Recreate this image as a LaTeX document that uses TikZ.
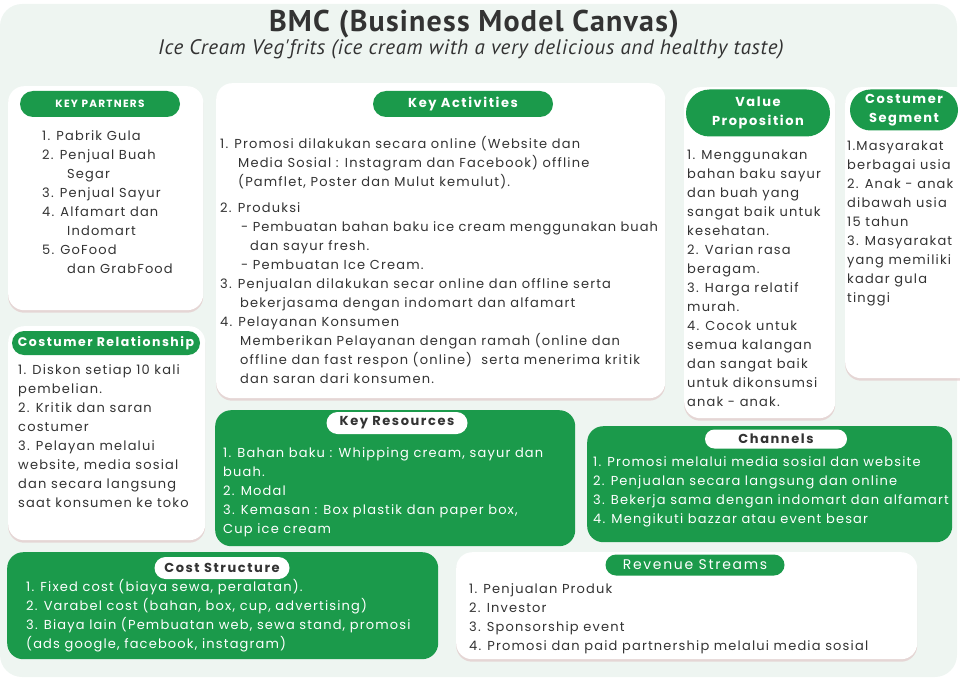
\documentclass[tikz,border=0pt]{standalone}
\usepackage{fontspec}
\usetikzlibrary{shapes.misc,shadows}
\newfontfamily\bodyf[LetterSpace=9]{Poppins}
\newfontfamily\tightf[LetterSpace=7.5]{Poppins}
\newfontfamily\headf[LetterSpace=12]{Poppins}
\newfontfamily\titlef[LetterSpace=4]{PT Sans}
\newfontfamily\subf[LetterSpace=3]{PT Sans}
\definecolor{bmcgreen}{HTML}{1B9A4B}
\definecolor{bgc}{HTML}{EEF5F1}
\definecolor{txt}{HTML}{333333}
\definecolor{shadowc}{HTML}{E2CACA}
\begin{document}
\begin{tikzpicture}[x=1pt,y=-1pt,
  wbox/.style={anchor=north west, fill=white, rounded corners=16pt, inner sep=0,
    drop shadow={shadow xshift=0pt, shadow yshift=-2.5pt, fill=shadowc, opacity=0.7}},
  gbox/.style={anchor=north west, fill=bmcgreen, rounded corners=16pt, inner sep=0},
  gpill/.style={rounded rectangle, fill=bmcgreen, text=white, inner sep=0,
    font=\headf\bfseries\fontsize{13}{15}\selectfont},
  wpill/.style={rounded rectangle, fill=white, text=txt, inner sep=0,
    font=\headf\bfseries\fontsize{13}{15}\selectfont},
  body/.style={anchor=base west, align=left, inner sep=0, text=txt,
    font=\bodyf\fontsize{13}{19}\selectfont},
  wbody/.style={body, text=white}]
\useasboundingbox (0,0) rectangle (960,679);
\clip (0,0) rectangle (960,679);
\fill[bgc] (0,4) [rounded corners=22pt] rectangle (957,677);

% title
\node[font=\titlef\bfseries\fontsize{30}{32}\selectfont, text=txt, anchor=base, inner sep=0] (title) at (474,32) {BMC (Business Model Canvas)};
\node[font=\subf\itshape\fontsize{21}{23}\selectfont, text=txt, anchor=base, inner sep=0] (subtitle) at (471,55) {Ice Cream Veg'frits (ice cream with a very delicious and healthy taste)};

% boxes
\node[wbox, minimum width=195pt, minimum height=224pt] (kpbox) at (8,86) {};
\node[wbox, minimum width=449pt, minimum height=315pt] (kabox) at (216,83) {};
\node[wbox, minimum width=151pt, minimum height=331pt] (vpbox) at (684,87) {};
\node[wbox, minimum width=135pt, minimum height=291pt] (csbox) at (845,87) {};
\node[wbox, minimum width=197pt, minimum height=214pt] (crbox) at (8,326) {};
\node[gbox, minimum width=360pt, minimum height=136pt] (krbox) at (215,410) {};
\node[gbox, minimum width=365pt, minimum height=116pt] (chbox) at (587,426) {};
\node[gbox, minimum width=431pt, minimum height=107pt] (costbox) at (7,552) {};
\node[wbox, minimum width=461pt, minimum height=107pt] (revbox) at (456,552) {};

% headers
\node[gpill, minimum width=160pt, minimum height=26pt, font=\headf\bfseries\fontsize{10.5}{12}\selectfont] (kph) at (100,104) {KEY PARTNERS};
\node[gpill, minimum width=180pt, minimum height=26pt] (kah) at (463,104) {Key Activities};
\node[gpill, minimum width=144pt, minimum height=47pt, align=center, font=\headf\bfseries\fontsize{13}{19}\selectfont] (vph) at (758,113) {Value\\Proposition};
\node[gpill, minimum width=108pt, minimum height=41pt, align=center, font=\headf\bfseries\fontsize{13}{19}\selectfont] (csh) at (904,110) {Costumer\\Segment};
\node[gpill, minimum width=188pt, minimum height=24pt, font=\headf\bfseries\fontsize{12.5}{15}\selectfont] (crh) at (106,343) {Costumer Relationship};
\node[wpill, minimum width=141pt, minimum height=22pt] (krh) at (397,423) {Key Resources};
\node[wpill, minimum width=142pt, minimum height=19pt] (chh) at (776,439) {Channels};
\node[wpill, minimum width=135pt, minimum height=22pt] (costh) at (222,568) {Cost Structure};
\node[gpill, minimum width=179pt, minimum height=21pt, font=\headf\fontsize{14}{16}\selectfont] (revh) at (695,565) {Revenue Streams};

% texts (base anchor = baseline of the last line)
\node[body] (kpt) at (42,273) {1. Pabrik Gula\\
2. Penjual Buah\\
\hspace*{25pt}Segar\\
3. Penjual Sayur\\
4. Alfamart dan\\
\hspace*{25pt}Indomart\\
5. GoFood\\
\hspace*{25pt}dan GrabFood};

\node[body] (kat) at (220,383) {1. Promosi dilakukan secara online (Website dan\\
\hspace*{18pt}Media Sosial : Instagram dan Facebook) offline\\
\hspace*{18pt}(Pamflet, Poster dan Mulut kemulut).\\[7pt]
2. Produksi\\
\hspace*{21pt}{\tightf - Pembuatan bahan baku ice cream menggunakan buah}\\
\hspace*{30pt}dan sayur fresh.\\
\hspace*{21pt}- Pembuatan Ice Cream.\\
3. Penjualan dilakukan secar online dan offline serta\\
\hspace*{20pt}bekerjasama dengan indomart dan alfamart\\
4. Pelayanan Konsumen\\
\hspace*{20pt}Memberikan Pelayanan dengan ramah (online dan\\
\hspace*{20pt}offline dan fast respon (online)\ \ serta menerima kritik\\
\hspace*{20pt}dan saran dari konsumen.};

\node[body] (vpt) at (687,406) {1. Menggunakan\\
bahan baku sayur\\
dan buah yang\\
sangat baik untuk\\
kesehatan.\\
2. Varian rasa\\
beragam.\\
3. Harga relatif\\
murah.\\
4. Cocok untuk\\
semua kalangan\\
dan sangat baik\\
untuk dikonsumsi\\
anak - anak.};

\node[body] (cst) at (847,302) {1.Masyarakat\\
berbagai usia\\
2. Anak - anak\\
dibawah usia\\
15 tahun\\
3. Masyarakat\\
yang memiliki\\
kadar gula\\
tinggi};

\node[body] (crt) at (18,507) {1. Diskon setiap 10 kali\\
pembelian.\\
2. Kritik dan saran\\
costumer\\
3. Pelayan melalui\\
website, media sosial\\
dan secara langsung\\
saat konsumen ke toko};

\node[wbody] (krt) at (223,533) {1. Bahan baku : Whipping cream, sayur dan\\
buah.\\
2. Modal\\
3. Kemasan : Box plastik dan paper box,\\
Cup ice cream};

\node[wbody] (cht) at (593,523) {1. Promosi melalui media sosial dan website\\
2. Penjualan secara langsung dan online\\
3. Bekerja sama dengan indomart dan alfamart\\
4. Mengikuti bazzar atau event besar};

\node[wbody] (costt) at (26,648) {1. Fixed cost (biaya sewa, peralatan).\\
2. Varabel cost (bahan, box, cup, advertising)\\
3. Biaya lain (Pembuatan web, sewa stand, promosi\\
(ads google, facebook, instagram)};

\node[body] (revt) at (469,650) {1. Penjualan Produk\\
2. Investor\\
3. Sponsorship event\\
4. Promosi dan paid partnership melalui media sosial};
\end{tikzpicture}
\end{document}
